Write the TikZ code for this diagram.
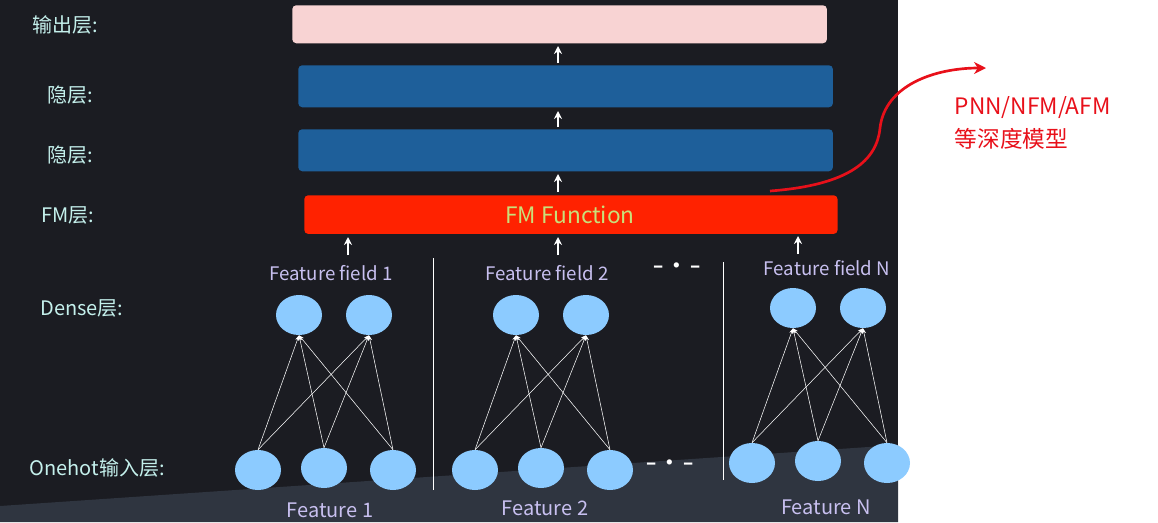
\documentclass[tikz,border=0pt]{standalone}
\usepackage{fontspec}
\setmainfont{Noto Sans CJK SC}
\usetikzlibrary{arrows.meta,shapes.geometric}
\definecolor{bgdark}{HTML}{1B1C22}
\definecolor{bglight}{HTML}{2F3540}
\definecolor{lbl}{HTML}{C4F0EC}
\definecolor{lav}{HTML}{C8C0F0}
\definecolor{pinkbar}{HTML}{F8D3D3}
\definecolor{bluebar}{HTML}{1E5F9A}
\definecolor{fmred}{HTML}{FF2200}
\definecolor{fmtxt}{HTML}{C9E07A}
\definecolor{ball}{HTML}{8CCBFF}
\definecolor{redtxt}{HTML}{E8101A}
\begin{document}
\begin{tikzpicture}[x=0.75pt,y=-0.75pt,
  lay/.style={text=lbl,font=\fontsize{15}{17}\selectfont},
  ftxt/.style={text=lav,font=\fontsize{14}{16}\selectfont},
  bar/.style={rounded corners=3pt,anchor=north west,inner sep=0pt},
  ball/.style={ellipse,fill=ball,minimum width=34.5pt,minimum height=30pt,inner sep=0pt},
  up/.style={-{Stealth[length=6pt,width=6pt]},white,line width=1.6pt},
  thin/.style={-{Stealth[length=4pt,width=3pt]},white,line width=0.4pt}]
\useasboundingbox (0,0) rectangle (1158,522);
\fill[bgdark] (0,0) rectangle (898,522);
\fill[bglight] (0,506) -- (898,445) -- (898,522) -- (0,522) -- cycle;
% layer labels
\node[lay] (l1) at (65,25) {输出层:};
\node[lay] (l2) at (70,95) {隐层:};
\node[lay] (l3) at (70,155) {隐层:};
\node[lay] (l4) at (68,215) {FM层:};
\node[lay] (l5) at (82,308) {Dense层:};
\node[lay] (l6) at (97,468) {Onehot输入层:};
% bars
\node[bar,fill=pinkbar,minimum width=401pt,minimum height=28.5pt] (out) at (292,5) {};
\node[bar,fill=bluebar,minimum width=401pt,minimum height=31.5pt] (h1) at (298,65) {};
\node[bar,fill=bluebar,minimum width=401pt,minimum height=31.5pt] (h2) at (298,129) {};
\node[bar,fill=fmred,minimum width=400pt,minimum height=29pt] (fm) at (304,195) {};
\node[text=fmtxt,font=\fontsize{17}{19}\selectfont] (fmt) at (570,215) {FM Function};
% arrows between bars
\coordinate (a1) at (558,63); \coordinate (b1) at (558,46);
\coordinate (a2) at (558,127); \coordinate (b2) at (558,111);
\coordinate (a3) at (558,192); \coordinate (b3) at (558,174);
\draw[up] (a1) -- (b1);
\draw[up] (a2) -- (b2);
\draw[up] (a3) -- (b3);
% bottom arrows
\coordinate (c1) at (348,255); \coordinate (d1) at (348,237);
\coordinate (c2) at (558,255); \coordinate (d2) at (558,237);
\coordinate (c3) at (798,254); \coordinate (d3) at (798,236);
\draw[up] (c1) -- (d1); \draw[up] (c2) -- (d2); \draw[up] (c3) -- (d3);
% feature field labels
\node[ftxt] (ff1) at (331,273) {Feature field 1};
\node[ftxt] (ff2) at (547,273) {Feature field 2};
\node[ftxt] (ffn) at (827,268) {Feature field N};
\node[text=white,font=\bfseries\fontsize{14}{16}\selectfont] (dd1) at (677,268) {– · –};
\node[text=white,font=\bfseries\fontsize{14}{16}\selectfont] (dd2) at (670,465) {– · –};
% separators
\coordinate (s1a) at (433,258); \coordinate (s1b) at (433,490);
\coordinate (s2a) at (723,262); \coordinate (s2b) at (723,480);
\draw[white,line width=0.6pt] (s1a) -- (s1b);
\draw[white,line width=0.6pt] (s2a) -- (s2b);
% balls
\foreach \g/\dx/\dy in {1/0/0,2/217/0,3/494/-7}{
  \node[ball] (d\g a) at (299+\dx,315+\dy) {};
  \node[ball] (d\g b) at (369+\dx,315+\dy) {};
  \node[ball] (o\g a) at (258+\dx,470+\dy) {};
  \node[ball] (o\g b) at (324+\dx,468+\dy) {};
  \node[ball] (o\g c) at (393+\dx,470+\dy) {};
  \foreach \o in {a,b,c}{
    \foreach \d in {a,b}{
      \draw[thin] (o\g\o.north) -- (d\g\d.south);
    }
  }
}
% feature labels
\node[ftxt,font=\fontsize{15}{17}\selectfont] (f1) at (330,510) {Feature 1};
\node[ftxt,font=\fontsize{15}{17}\selectfont] (f2) at (545,508) {Feature 2};
\node[ftxt,font=\fontsize{15}{17}\selectfont] (fn) at (826,507) {Feature N};
% red curve
\coordinate (rs) at (770,191);
\coordinate (rm) at (880,128);
\coordinate (re) at (986,68);
\draw[redtxt,line width=2pt,-{Stealth[length=9pt,width=9pt]}] (rs) .. controls (850,185) and (877,160) .. (rm) .. controls (885,85) and (935,68) .. (re);
\node[text=redtxt,font=\fontsize{17}{19}\selectfont,anchor=west] (t1) at (950,108) {PNN/NFM/AFM};
\node[text=redtxt,font=\fontsize{17}{19}\selectfont,anchor=west] (t2) at (950,139) {等深度模型};
\end{tikzpicture}
\end{document}
